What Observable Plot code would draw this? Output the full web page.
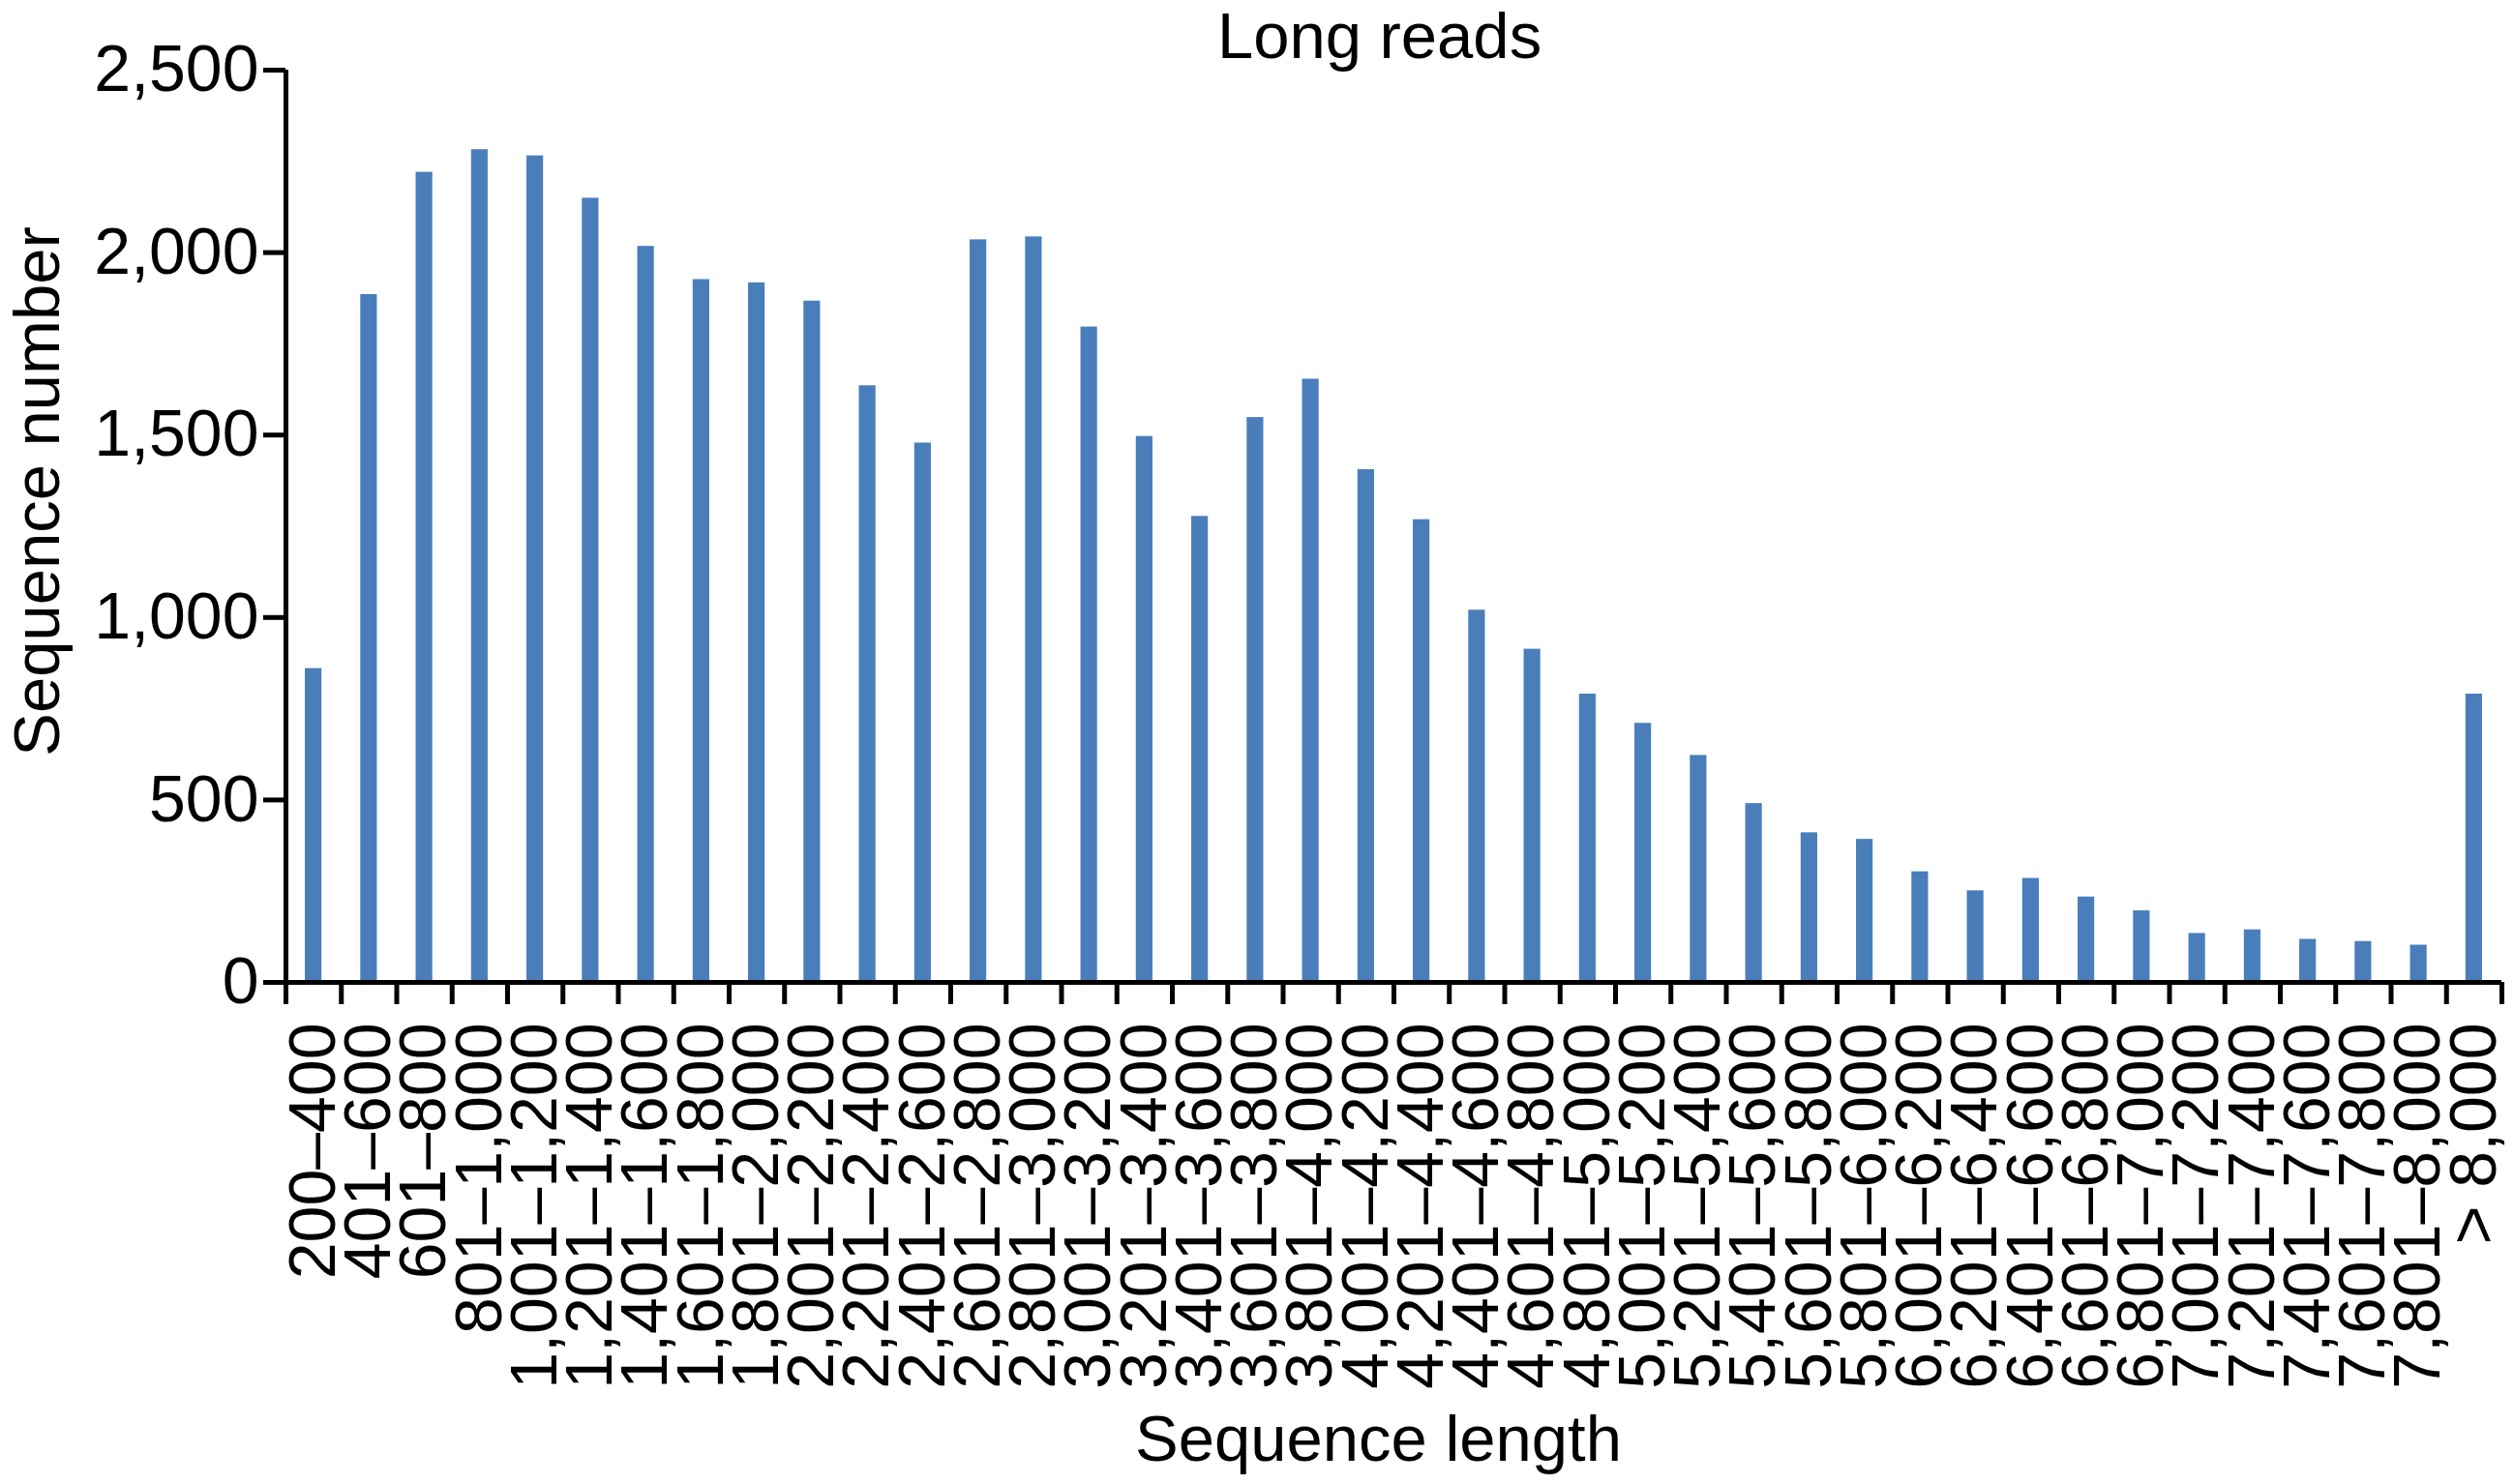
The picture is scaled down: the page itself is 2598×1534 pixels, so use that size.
<!DOCTYPE html>
<html>
<head>
<meta charset="utf-8">
<script src="https://cdn.jsdelivr.net/npm/d3@7"></script>
<script src="https://cdn.jsdelivr.net/npm/@observablehq/plot@0.6"></script>
<style>
  html, body { margin: 0; padding: 0; background: #fff; overflow: hidden; }
  #chart svg { display: block; }
</style>
</head>
<body>
<div id="chart"></div>
<script>
const categories = [
  "200–400", "401–600", "601–800", "801–1,000",
  "1,001–1,200", "1,201–1,400", "1,401–1,600", "1,601–1,800", "1,801–2,000",
  "2,001–2,200", "2,201–2,400", "2,401–2,600", "2,601–2,800", "2,801–3,000",
  "3,001–3,200", "3,201–3,400", "3,401–3,600", "3,601–3,800", "3,801–4,000",
  "4,001–4,200", "4,201–4,400", "4,401–4,600", "4,601–4,800", "4,801–5,000",
  "5,001–5,200", "5,201–5,400", "5,401–5,600", "5,601–5,800", "5,801–6,000",
  "6,001–6,200", "6,201–6,400", "6,401–6,600", "6,601–6,800", "6,801–7,000",
  "7,001–7,200", "7,201–7,400", "7,401–7,600", "7,601–7,800", "7,801–8,000",
  "> 8,000"
];
const counts = [
  860, 1885, 2220, 2282,
  2265, 2149, 2017, 1926, 1917,
  1867, 1635, 1478, 2035, 2043,
  1796, 1496, 1277, 1548, 1653,
  1405, 1268, 1020, 913, 790,
  710, 622, 490, 410, 392,
  303, 251, 285, 234, 196,
  134, 144, 118, 112, 102,
  790
];
const yTicks = [0, 500, 1000, 1500, 2000, 2500];
const titleText = "Long reads";
const xTitle = "Sequence length";
const yTitle = "Sequence number";

const data = categories.map((c, i) => ({category: c, index: i, count: counts[i]}));
const boundaries = d3.range(0, categories.length + 1);

const TICK_FONT = 68;
const TITLE_FONT = 67;
const chart = Plot.plot({
  width: 2598,
  height: 1534,
  marginLeft: 295,
  marginRight: 13,
  marginTop: 72,
  marginBottom: 519,
  style: {fontFamily: "'Liberation Sans', Arial, Helvetica, sans-serif", fontSize: TICK_FONT + "px", color: "#000", background: "#fff"},
  x: {domain: [0, categories.length]},
  y: {domain: [0, 2500]},
  marks: [
    Plot.rectY(data, {
      x1: d => d.index + 0.35,
      x2: d => d.index + 0.65,
      y1: 0,
      y2: "count",
      fill: "#4a7ebb"
    }),
    Plot.axisY({
      ticks: yTicks,
      tickFormat: d3.format(","),
      tickSize: 23,
      tickPadding: 5,
      strokeWidth: 5,
      fontSize: TICK_FONT,
      label: null
    }),
    Plot.axisX({
      ticks: boundaries,
      tickSize: 23,
      tickFormat: () => "",
      strokeWidth: 5,
      label: null
    }),
    Plot.text(data, {
      x: d => d.index + 0.5,
      frameAnchor: "bottom",
      text: "category",
      rotate: -90,
      textAnchor: "end",
      lineAnchor: "middle",
      dy: 42,
      fontSize: TICK_FONT
    }),
    Plot.ruleY([0], {strokeWidth: 5}),
    Plot.ruleX([0], {strokeWidth: 5}),
    Plot.text([yTitle], {
      frameAnchor: "left",
      rotate: -90,
      textAnchor: "middle",
      lineAnchor: "middle",
      dx: -256,
      dy: -36,
      fontSize: TITLE_FONT
    }),
    Plot.text([xTitle], {
      frameAnchor: "bottom",
      textAnchor: "middle",
      lineAnchor: "middle",
      dx: -16,
      dy: 473,
      fontSize: TITLE_FONT
    }),
    Plot.text([titleText], {
      frameAnchor: "top",
      textAnchor: "middle",
      lineAnchor: "middle",
      dx: -15,
      dy: -34,
      fontSize: TITLE_FONT
    })
  ]
});
document.getElementById("chart").appendChild(chart);
</script>
</body>
</html>
